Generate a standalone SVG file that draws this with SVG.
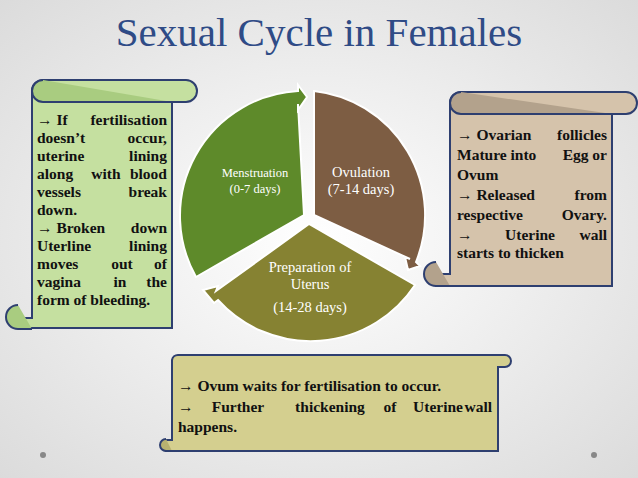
<svg xmlns="http://www.w3.org/2000/svg" width="638" height="478" viewBox="0 0 638 478">
<defs>
<radialGradient id="bg" cx="0.5" cy="0.5" r="0.75"><stop offset="0" stop-color="#ffffff"/><stop offset="1" stop-color="#d9d9d9"/></radialGradient>
<style>
.t{font-family:"Liberation Serif",serif;font-weight:bold;font-size:15.5px;fill:#111}
.e{text-anchor:end}
.m{text-anchor:middle}
.w{font-family:"Liberation Serif",serif;fill:#fff;text-anchor:middle}
.sc{stroke:#2e3f70;stroke-width:2}
</style>
</defs>
<rect width="638" height="478" fill="url(#bg)"/>
<text x="319" y="46" text-anchor="middle" font-family="Liberation Serif,serif" font-size="41" fill="#2f4b86">Sexual Cycle in Females</text>
<circle cx="43" cy="455" r="3" fill="#888"/><circle cx="594" cy="455" r="3" fill="#888"/>

<g id="cycle">
<g id="menstruation">
<path d="M304,215 L196,277 A125,125 0 0 1 298,91 L298,85 L307,97 L298,110 L298,104 Z" fill="#5e8a2a" stroke="#fff" stroke-width="2"/>
<text class="w" x="255" y="177" font-size="12.5">Menstruation</text><text class="w" x="255" y="193" font-size="12.5">(0-7 days)</text>
</g>
<g id="ovulation">
<path d="M314,215 L314,91 A125,125 0 0 1 416,262 L420,266 L408,270 L405,257 L410,259 Z" fill="#7d5d43" stroke="#fff" stroke-width="2"/>
<text class="w" x="361" y="177" font-size="14.5">Ovulation</text><text class="w" x="361" y="194" font-size="14.5">(7-14 days)</text>
</g>
<g id="preparation">
<path d="M309,224 L415,285 A125,125 0 0 1 218,300 L214,303 L203,290 L218,286 L216,291 Z" fill="#868232" stroke="#fff" stroke-width="2"/>
<text class="w" x="310" y="272" font-size="14.5">Preparation of</text><text class="w" x="310" y="289" font-size="14.5">Uterus</text><text class="w" x="310" y="312" font-size="14.5">(14-28 days)</text>
</g>
</g>

<g id="scroll-left">
<path class="sc" d="M32,90 L32,318 L18,318 A10,10 0 0 0 18,328 L172,328 L172,102 L186,102 A11,11 0 0 0 186,80 L43,80 A11,11 0 0 0 32,90 Z" fill="#c5e0a0"/>
<path class="sc" d="M43,80 A11,11 0 0 0 43,102 L172,102" fill="#a9cc80"/>
<path class="sc" d="M18,305 A12,12 0 0 0 18,329 L32,329" fill="#a9cc80"/>
<g class="t">
<text x="37" y="125">→ If</text><text class="e" x="167" y="125">fertilisation</text>
<text x="37" y="143">doesn’t</text><text class="e" x="167" y="143">occur,</text>
<text x="37" y="161">uterine</text><text class="e" x="167" y="161">lining</text>
<text x="37" y="179">along</text><text class="m" x="106" y="179">with</text><text class="e" x="167" y="179">blood</text>
<text x="37" y="197">vessels</text><text class="e" x="167" y="197">break</text>
<text x="37" y="215">down.</text>
<text x="37" y="233">→ Broken</text><text class="e" x="167" y="233">down</text>
<text x="37" y="251">Uterline</text><text class="e" x="167" y="251">lining</text>
<text x="37" y="269">moves</text><text class="m" x="122" y="269">out</text><text class="e" x="167" y="269">of</text>
<text x="37" y="287">vagina</text><text class="m" x="120" y="287">in</text><text class="e" x="167" y="287">the</text>
<text x="37" y="305">form of bleeding.</text>
</g>
</g>

<g id="scroll-right">
<path class="sc" d="M450,102 L450,274 L436,274 A10,10 0 0 0 436,286 L612,286 L612,114 L626,114 A11,11 0 0 0 626,92 L461,92 A11,11 0 0 0 450,102 Z" fill="#d5c3ab"/>
<path class="sc" d="M461,92 A11,11 0 0 0 461,114 L612,114" fill="#b3a28c"/>
<path class="sc" d="M436,262 A12,12 0 0 0 436,286 L450,286" fill="#b3a28c"/>
<g class="t">
<text x="457" y="140">→ Ovarian</text><text class="e" x="607" y="140">follicles</text>
<text x="457" y="160">Mature into</text><text class="e" x="607" y="160">Egg or</text>
<text x="457" y="180">Ovum</text>
<text x="457" y="200">→  Released</text><text class="e" x="607" y="200">from</text>
<text x="457" y="220">respective</text><text class="e" x="607" y="220">Ovary.</text>
<text x="457" y="240">→</text><text class="m" x="530" y="240">Uterine</text><text class="e" x="607" y="240">wall</text>
<text x="457" y="258">starts to thicken</text>
</g>
</g>

<g id="scroll-bottom">
<path class="sc" d="M172,360 L172,440 L166,440 A6,6 0 0 0 166,451 L498,451 L498,367 L505,367 A6,6 0 0 0 505,355 L178,355 A6,6 0 0 0 172,360 Z" fill="#d4cf8f"/>
<path class="sc" d="M166,439 A6,6 0 0 0 166,451 L172,451" fill="#b8b270"/>
<g class="t">
<text x="178" y="391">→ Ovum waits for fertilisation to occur.</text>
<text x="178" y="412">→</text><text class="m" x="238" y="412">Further</text><text class="m" x="330" y="412">thickening</text><text class="m" x="390" y="412">of</text><text class="m" x="438" y="412">Uterine</text><text class="e" x="492" y="412">wall</text>
<text x="178" y="432">happens.</text>
</g>
</g>
</svg>
